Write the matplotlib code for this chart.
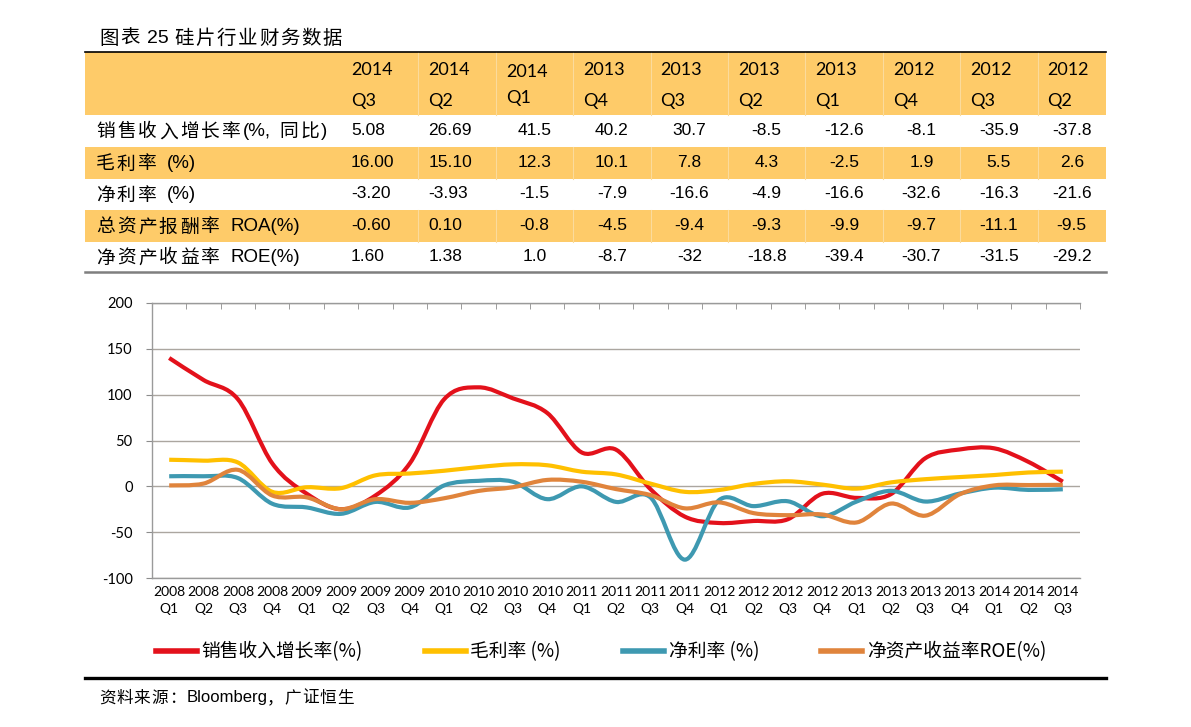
import re
import numpy as np
import matplotlib
matplotlib.use("Agg")
from matplotlib import pyplot as plt
from matplotlib.path import Path
from matplotlib.patches import PathPatch, Rectangle
from matplotlib.lines import Line2D
from matplotlib.ticker import FixedLocator

plt.rcParams['font.family'] = ['Noto Sans CJK SC', 'DejaVu Sans']
plt.rcParams['axes.unicode_minus'] = False

# ---- table data ----
title = "图表 25 硅片行业财务数据"
table_years = ["2014", "2014", "2014", "2013", "2013", "2013", "2013", "2012", "2012", "2012"]
table_quarters = ["Q3", "Q2", "Q1", "Q4", "Q3", "Q2", "Q1", "Q4", "Q3", "Q2"]
row_labels = ["销售收入增长率(%, 同比)", "毛利率 (%)", "净利率 (%)",
              "总资产报酬率 ROA(%)", "净资产收益率 ROE(%)"]
row_sales = ["5.08", "26.69", "41.5", "40.2", "30.7", "-8.5", "-12.6", "-8.1", "-35.9", "-37.8"]
row_gross = ["16.00", "15.10", "12.3", "10.1", "7.8", "4.3", "-2.5", "1.9", "5.5", "2.6"]
row_net = ["-3.20", "-3.93", "-1.5", "-7.9", "-16.6", "-4.9", "-16.6", "-32.6", "-16.3", "-21.6"]
row_roa = ["-0.60", "0.10", "-0.8", "-4.5", "-9.4", "-9.3", "-9.9", "-9.7", "-11.1", "-9.5"]
row_roe = ["1.60", "1.38", "1.0", "-8.7", "-32", "-18.8", "-39.4", "-30.7", "-31.5", "-29.2"]
table_rows = [row_sales, row_gross, row_net, row_roa, row_roe]

# ---- chart data (2008Q1 .. 2014Q3) ----
quarter_labels = [f"{y}\nQ{q}" for y in range(2008, 2015) for q in range(1, 5)][:27]
sales_growth = [140, 116, 95, 25, -8, -25, -10, 25, 95, 108, 96, 80, 37, 40, -3, -33, -40,
                -37.8, -35.9, -8.1, -12.6, -8.5, 30.7, 40.2, 41.5, 26.69, 5.08]
gross_margin = [29, 28, 26, -6, -1, -2, 12, 14, 17, 21, 24, 23, 16, 13, 3, -6, -4,
                2.6, 5.5, 1.9, -2.5, 4.3, 7.8, 10.1, 12.3, 15.10, 16.00]
net_margin = [11, 11, 9, -19, -23, -30, -17, -23, 1, 6, 5, -14, 0, -17, -12, -80, -15,
              -21.6, -16.3, -32.6, -16.6, -4.9, -16.6, -7.9, -1.5, -3.93, -3.20]
roe = [1, 3, 18, -10, -12, -25, -14, -18, -13, -5, -1, 7, 5, -3, -9.5, -24, -17.5,
       -29.2, -31.5, -30.7, -39.4, -18.8, -32, -8.7, 1.0, 1.38, 1.60]
series_names = ["销售收入增长率(%)", "毛利率 (%)", "净利率 (%)", "净资产收益率ROE(%)"]
series_colors = ["#E3111B", "#FFC000", "#3E99B1", "#E0843C"]
source = "资料来源：Bloomberg，广证恒生"

W, H = 1191, 727
ORANGE = "#FECB69"
CJK = r'[\u3000-\u9fff\uff00-\uffef]'


def fx(x):
    return x / W


def fy(y):
    return 1 - y / H


def smooth_path(vals):
    # excel style smoothed line: cubic bezier through every point
    pts = np.column_stack([np.arange(len(vals)), vals]).astype(float)
    n = len(pts)
    verts = [pts[0]]
    codes = [Path.MOVETO]
    for i in range(n - 1):
        p0 = pts[i - 1] if i > 0 else pts[i]
        p3 = pts[i + 2] if i + 2 < n else pts[i + 1]
        verts += [pts[i] + (pts[i + 1] - p0) / 6, pts[i + 1] - (p3 - pts[i]) / 6, pts[i + 1]]
        codes += [Path.CURVE4] * 3
    return Path(verts, codes)


fig = plt.figure(figsize=(W / 100, H / 100), dpi=100)
renderer = fig.canvas.get_renderer()


def spaced_text(x, y, s, size, track=2.0, space=0.45, latin='Liberation Sans'):
    # chinese glyphs get a bit of letter spacing, latin runs are drawn as is
    em = size * 100 / 72
    base = y + em * 0.36
    for run in re.findall(CJK + r'|[^\u3000-\u9fff\uff00-\uffef]+', s):
        cjk = bool(re.match(CJK, run))
        txt = run.strip(' ')
        x += (len(run) - len(run.lstrip(' '))) * em * space
        if txt:
            if cjk:
                t = fig.text(fx(x), fy(base), txt, fontsize=size, family='Noto Sans CJK SC',
                             ha='left', va='baseline')
            else:
                t = fig.text(fx(x), fy(base - em * 0.06), txt, fontsize=size,
                             family=[latin, 'Noto Sans CJK SC'], ha='left', va='baseline')
            x += t.get_window_extent(renderer).width
            x += (len(run) - len(run.rstrip(' '))) * em * space
        if cjk:
            x += track


# ---- title ----
spaced_text(99, 37, title, 14, track=1.6, space=0.3)

# ---- table ----
tl, tr = 85, 1106
row_tops = [115, 147, 178, 210, 241]
row_h = 31.5
fig.add_artist(Rectangle((fx(tl), fy(115)), fx(tr - tl), (115 - 52) / H,
                         transform=fig.transFigure, color=ORANGE, lw=0))
for k in (1, 3):
    fig.add_artist(Rectangle((fx(tl), fy(row_tops[k] + row_h)), fx(tr - tl), row_h / H,
                             transform=fig.transFigure, color=ORANGE, lw=0))
fig.add_artist(Line2D([fx(tl), fx(tr)], [fy(52), fy(52)], color='black', lw=1.2))
fig.add_artist(Line2D([fx(tl), fx(tr)], [fy(272), fy(272)], color='#7F7F7F', lw=1.8))

col_w = 77.4
col_left = [341 + col_w * i for i in range(10)]
col_right = col_left[1:] + [tr]
for i in range(1, 10):
    x = fx(col_left[i])
    fig.add_artist(Line2D([x, x], [fy(53), fy(115)], color='#FBDB9C', lw=0.8))
    for k in (1, 3):
        fig.add_artist(Line2D([x, x], [fy(row_tops[k]), fy(row_tops[k] + row_h)],
                              color='#FBDB9C', lw=0.8))

for i in range(10):
    yy, qy = (72, 98) if i == 2 else (70, 101)
    fig.text(fx(col_left[i] + 10), fy(yy), table_years[i], fontsize=13, family='Lato',
             va='center', ha='left')
    fig.text(fx(col_left[i] + 10), fy(qy), table_quarters[i], fontsize=13, family='Lato',
             va='center', ha='left')

for k, (lab, vals) in enumerate(zip(row_labels, table_rows)):
    yc = row_tops[k] + row_h / 2
    spaced_text(96, yc, lab, 13.5, track=2.2)
    for i, v in enumerate(vals):
        if i < 2:
            fig.text(fx(col_left[i] + 10), fy(yc), v, fontsize=12.5, family='Liberation Sans',
                     va='center', ha='left')
        else:
            fig.text(fx((col_left[i] + col_right[i]) / 2), fy(yc), v, fontsize=12.5,
                     family='Liberation Sans', va='center', ha='center')

# ---- line chart ----
ax = fig.add_axes([fx(152), fy(578), fx(1080 - 152), (578 - 303) / H])
n = len(quarter_labels)
for vals, c in zip([sales_growth, gross_margin, net_margin, roe], series_colors):
    ax.add_patch(PathPatch(smooth_path(vals), fill=False, edgecolor=c, lw=3,
                           joinstyle='round', capstyle='butt', zorder=3))

ax.set_xlim(-0.5, n - 0.5)
ax.set_ylim(-100, 200)
ax.set_yticks(np.arange(-100, 201, 50))
ax.yaxis.grid(True, color='#ABA6A0', lw=1)
ax.set_axisbelow(True)
ax.set_xticks(np.arange(n))
ax.set_xticklabels(quarter_labels, linespacing=1.45, fontsize=10, family='Lato')
ax.xaxis.set_minor_locator(FixedLocator(np.arange(n + 1) - 0.5))
ax.tick_params(axis='x', which='major', length=0, pad=6)
ax.tick_params(axis='x', which='minor', bottom=False, top=True, direction='in',
               length=4, color='#8C8C8C')
ax.tick_params(axis='y', length=4, color='#8C8C8C', pad=10)
for lab in ax.get_yticklabels():
    lab.set_family('Lato')
    lab.set_fontsize(10.5)
ax.spines['right'].set_visible(False)
for s in ('left', 'bottom', 'top'):
    ax.spines[s].set_color('#9A9A9A')
    ax.spines[s].set_linewidth(1)

handles = [Line2D([], [], color=c, lw=4) for c in series_colors]
fig.legend(handles, series_names, loc='center', bbox_to_anchor=(fx(601), fy(652)),
           ncol=4, frameon=False, fontsize=13.5, handlelength=2.2, handletextpad=0.25,
           columnspacing=3.3)

# ---- footer ----
fig.add_artist(Line2D([fx(85), fx(1106)], [fy(678), fy(678)], color='black', lw=2.4))
spaced_text(99, 697, source, 12, track=0.8)

fig.savefig("out.png", dpi=100)
plt.close(fig)
